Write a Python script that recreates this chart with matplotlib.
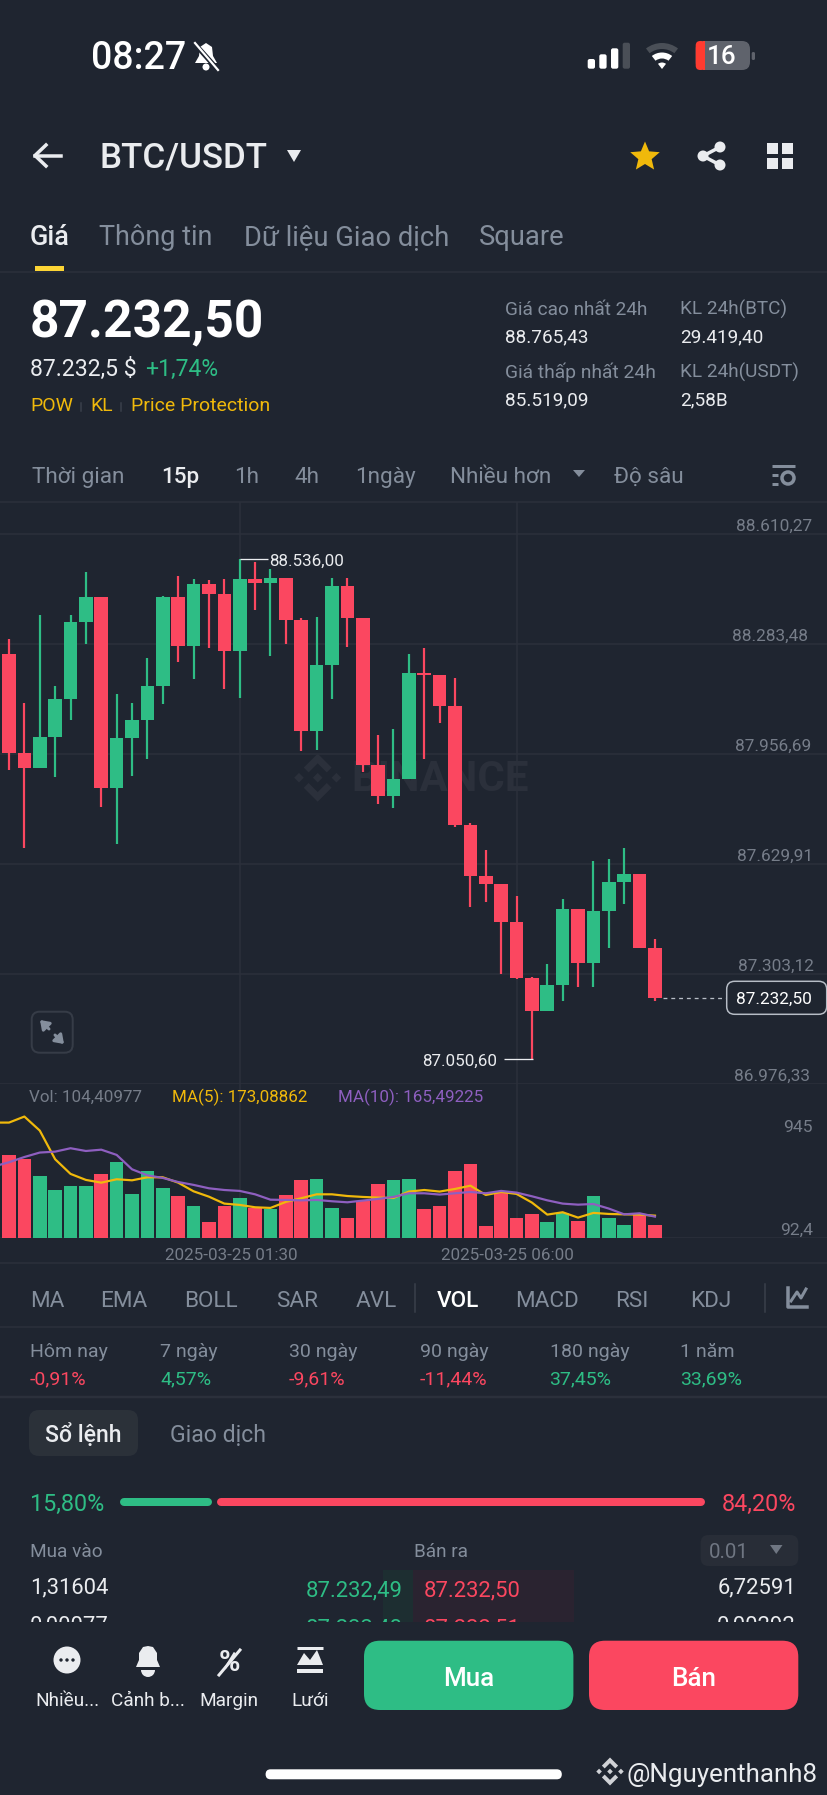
import numpy as np
import matplotlib
matplotlib.use('Agg')
import matplotlib.pyplot as plt
from matplotlib.patches import Circle, FancyBboxPatch, Polygon, Rectangle, Wedge

plt.rcParams['font.family'] = ['Roboto', 'Noto Sans', 'DejaVu Sans']

W, H = 828, 1795

# candles, first one is cut by the left edge
indices = np.arange(-1, 43)
opens = [88311, 88253.5, 87961, 87914.5, 88006.5, 88119.5, 88349.5, 88423, 87856, 88003.5, 88057,
         88159.5, 88423, 88278.5, 88461.5, 88434, 88263.5, 88477.5, 88464.5, 88481.5, 88356.5, 88024.5,
         88222, 88457.5, 88360.5, 87923.5, 87832, 87882, 88197, 88191, 88100, 87745,
         87593.5, 87569.5, 87456.5, 87291, 87193, 87270, 87497, 87336.5, 87488.5, 87576.5, 87598.5, 87381]
highs = [88311, 88299, 88110, 88370.5, 88160, 88371.5, 88499.5, 88423, 88135.5, 88109, 88241.5,
         88428, 88486.5, 88478.5, 88474.5, 88477.5, 88536, 88527, 88507, 88481.5, 88361.5, 88363.5,
         88479.5, 88479.5, 88360.5, 88014.5, 88030.5, 88255.5, 88273.5, 88191, 88184, 87751,
         87671.5, 87569.5, 87536, 87295, 87331.5, 87526, 87497, 87639, 87645, 87677.5, 87598.5, 87408]
lows = [88256.5, 87909.5, 87678.5, 87914.5, 87889.5, 88057, 88284, 87800.5, 87690.5, 87892.5, 87941,
        88107, 88231.5, 88179, 88271.5, 88149.5, 88122.5, 88386.5, 88248.5, 88283, 87967, 87969,
        88119.5, 88275.5, 87904.5, 87807.5, 87796.5, 87882, 87941, 88050.5, 87741, 87501,
        87516, 87303, 87287, 87050.6, 87193, 87223.5, 87262.5, 87262.5, 87379.5, 87511, 87379.5, 87223.5]
closes = [88256.5, 87961, 87914.5, 88006.5, 88119.5, 88349.5, 88423, 87856, 88003.5, 88057, 88159.5,
          88423, 88278.5, 88461.5, 88434, 88263.5, 88477.5, 88464.5, 88481.5, 88356.5, 88024.5, 88222,
          88457.5, 88361.5, 87923.5, 87832, 87882, 88197, 88192, 88100, 87745, 87593.5,
          87569.5, 87456.5, 87291, 87193, 87270, 87497, 87336.5, 87488.5, 87575.5, 87598.5, 87381, 87232.5]

# volume pane
volumes = [942, 634, 606, 474, 369, 397, 400, 489, 586, 339, 514, 387, 321, 247, 125, 247, 308, 234, 224,
           329, 443, 451, 229, 155, 285, 415, 443, 456, 222, 247, 517, 568, 94, 346, 158, 186, 122, 191,
           135, 321, 158, 104, 186, 104.4]
ma5 = [884, 884, 930, 823, 604, 492, 446, 425, 451, 443, 466, 466, 425, 359, 318, 265, 255, 237, 232,
       278, 306, 336, 336, 323, 316, 311, 308, 357, 369, 357, 377, 402, 331, 354, 339, 273, 181, 199,
       158, 194, 186, 183, 181, 173]
ma10 = [548, 581, 621, 655, 662, 688, 667, 677, 637, 527, 481, 461, 430, 408, 382, 369, 362, 336, 295,
        293, 290, 293, 283, 275, 288, 301, 316, 344, 344, 334, 344, 354, 344, 362, 349, 321, 290, 265,
        257, 262, 227, 183, 191, 165.5]

price_ticks = [88610.27, 88283.48, 87956.69, 87629.91, 87303.12, 86976.33]
price_labels = ['88.610,27', '88.283,48', '87.956,69', '87.629,91', '87.303,12', '86.976,33']
time_ticks = [15, 33]
time_labels = ['2025-03-25 01:30', '2025-03-25 06:00']

perf_names = ['Hôm nay', '7 ngày', '30 ngày', '90 ngày', '180 ngày', '1 năm']
perf_values = [-0.91, 4.57, -9.61, -11.44, 37.45, 33.69]
buy_share, sell_share = 15.80, 84.20

BG = '#1f2530'
GRID = '#2b303b'
GREEN = '#2ebd85'
RED = '#fb4760'
GREY = '#848e9c'
AXIS_GREY = '#767d89'
LIGHT = '#eaecef'
YELLOW = '#f0b90b'
PURPLE = '#8e5fc0'


def px(n):
    # pixel size to points at dpi 100
    return n * 0.72


def vn(x):
    return f'{x:.2f}'.replace('.', ',')


fig = plt.figure(figsize=(W / 100, H / 100), dpi=100, facecolor=BG)


def pane(top, bottom):
    ax = fig.add_axes([0, 1 - bottom / H, 1, (bottom - top) / H])
    ax.set_facecolor('none')
    # 9 px is the centre of candle 0, 15.38 px between candles
    ax.set_xlim(-9 / 15.38, (W - 9) / 15.38)
    for s in ax.spines.values():
        s.set_visible(False)
    ax.tick_params(length=0, labelleft=False, labelbottom=False)
    return ax


ax_price = pane(502, 1083.7)
ax_price.set_ylim(86976.33, 88706.3)
ax_vol = pane(1083.7, 1238.3)
ax_vol.set_ylim(0, 1181)

ui = fig.add_axes([0, 0, 1, 1], zorder=5)
ui.set_xlim(0, W)
ui.set_ylim(H, 0)
ui.axis('off')
ui.patch.set_alpha(0)


def txt(x, y, s, size, color=LIGHT, ha='left', weight='normal', **kw):
    return ui.text(x, y, s, fontsize=px(size), color=color, ha=ha, va='baseline', fontweight=weight, **kw)


def hline(y, x0=0, x1=W, color=GRID, lw=1.5):
    ui.plot([x0, x1], [y, y], color=color, lw=px(lw), solid_capstyle='butt')


def tri(x0, x1, y0, y1, color):
    # small dropdown triangle
    ui.add_patch(Polygon([(x0, y0), (x1, y0), ((x0 + x1) / 2, y1)], color=color, lw=0))


def rbox(x0, y0, x1, y1, r, face, edge='none', lw=0, **kw):
    ui.add_patch(FancyBboxPatch((x0 + r, y0 + r), x1 - x0 - 2 * r, y1 - y0 - 2 * r,
                                boxstyle=f'round,pad={r},rounding_size={r}', fc=face, ec=edge, lw=lw, **kw))


def logo(ax, cx, cy, r, color, zorder=5, transform=None):
    # binance mark: three small squares plus two chevrons
    transform = transform or ax.transData
    s = r * 0.2
    for dx in (-r * 0.78, 0, r * 0.78):
        ax.add_patch(Polygon([(cx + dx - s, cy), (cx + dx, cy - s), (cx + dx + s, cy), (cx + dx, cy + s)],
                             color=color, lw=0, zorder=zorder, transform=transform, clip_on=False))
    for sign in (-1, 1):
        pts = [(cx - r * 0.58, cy + sign * r * 0.42), (cx, cy + sign * r), (cx + r * 0.58, cy + sign * r * 0.42),
               (cx + r * 0.38, cy + sign * r * 0.22), (cx, cy + sign * r * 0.6), (cx - r * 0.38, cy + sign * r * 0.22)]
        ax.add_patch(Polygon(pts, color=color, lw=0, zorder=zorder, transform=transform, clip_on=False))


# panes
for ax in (ax_price, ax_vol):
    ax.set_xticks(time_ticks)
    ax.grid(True, axis='x', color=GRID, lw=px(1.5))
    ax.set_axisbelow(True)
ax_price.set_yticks(price_ticks)
ax_price.grid(True, axis='y', color=GRID, lw=px(1.5))
ax_vol.set_yticks([0])
ax_vol.grid(True, axis='y', color=GRID, lw=px(1.5))

colors = [GREEN if c >= o else RED for o, c in zip(opens, closes)]
tops = np.maximum(opens, closes)
bots = np.minimum(opens, closes)
ax_price.vlines(indices, lows, highs, colors=colors, lw=px(2.2), zorder=3)
ax_price.bar(indices, tops - bots, bottom=bots, width=0.885, color=colors, zorder=4)

ax_vol.bar(indices, volumes, width=0.885, color=colors, zorder=3)
ax_vol.plot(indices, ma5, color=YELLOW, lw=px(2.2), zorder=4)
ax_vol.plot(indices, ma10, color=PURPLE, lw=px(2.2), zorder=5)

# watermark under the candles
ax_price.text(351.5, 791, 'BINANCE', fontsize=px(42), fontweight='bold', color='#2b303b', zorder=1,
              va='baseline', transform=ui.transData, clip_on=False)
logo(ax_price, 317.7, 777.7, 24, '#2b303b', zorder=1, transform=ui.transData)

# axis labels, right edges differ a little in the app
for p, lab, right in zip(price_ticks, price_labels, [812, 808, 811, 813, 814, 810]):
    ax_price.annotate(lab, xy=(right / W, p), xycoords=('axes fraction', 'data'), xytext=(0, px(3.3)),
                      textcoords='offset points', ha='right', va='baseline', fontsize=px(17.3), color=AXIS_GREY)
txt(813, 1132, '945', 17.5, AXIS_GREY, ha='right')
txt(813, 1235, '92,4', 17.5, AXIS_GREY, ha='right')
txt(165, 1260, time_labels[0], 17, AXIS_GREY)
txt(440.7, 1260, time_labels[1], 17, AXIS_GREY)
hline(1263)

txt(29, 1101.7, 'Vol: 104,40977', 17, AXIS_GREY)
txt(171.7, 1101.7, 'MA(5): 173,08862', 17, YELLOW)
txt(338, 1101.7, 'MA(10): 165,49225', 17, PURPLE)

# high, low and last price
hline(559.3, 240, 268, color=LIGHT, lw=1.3)
txt(269, 566, '88.536,00', 17, LIGHT)
hline(1059, 504, 532.7, color=LIGHT, lw=1.3)
txt(422, 1065.7, '87.050,60', 17, LIGHT)
ui.plot([663, 726], [998, 998], color='#b7bdc6', lw=px(1.3), ls=(0, (3, 3)))
rbox(726.7, 981.3, 826.7, 1014.3, 8, BG, edge='#b7bdc6', lw=px(1.5))
txt(774, 1004.3, '87.232,50', 17.2, 'white', ha='center')

# expand button
rbox(31.7, 1011.7, 72.7, 1052.7, 8, 'none', edge='#363c47', lw=px(2))
for a, b in [((49, 1029), (40, 1020)), ((55, 1035), (64, 1044))]:
    ui.annotate('', xy=b, xytext=a, arrowprops=dict(arrowstyle='-|>,head_width=0.35,head_length=0.5',
                                                    color=GREY, lw=px(3), shrinkA=0, shrinkB=0))

# status bar
txt(91, 69, '08:27', 37.5, 'white', weight='medium')
ui.add_patch(Polygon([(195, 63), (199, 56), (200, 47), (206, 43), (212, 47), (213, 56), (217, 63)], color='white', lw=0))
ui.add_patch(Circle((206, 67), 3.5, color='white', lw=0))
ui.plot([194, 219], [43, 71], color=BG, lw=px(5))
ui.plot([195, 218], [43, 70], color='white', lw=px(2.2))
for x0, ytop, col in [(587.7, 59, 'white'), (599.3, 54.3, 'white'), (611, 48.3, 'white'), (622.7, 42.7, '#4a4f57')]:
    rbox(x0, ytop, x0 + 7.3, 68.7, 2, col)
for r0, r1, col in [(20, 26, '#4a4f57'), (10.5, 16.5, 'white'), (0, 6.5, 'white')]:
    ui.add_patch(Wedge((662, 69), r1, 232, 308, width=r1 - r0, color=col, lw=0))
rbox(695.7, 41, 750, 70, 8, '#5f636c')
ui.add_patch(Rectangle((703, 41), 2, 29, color='#ff3b30', lw=0))
rbox(695.7, 41, 705, 70, 4.5, '#ff3b30')
rbox(751.7, 52, 755, 60, 1.5, '#5f636c')
txt(722, 64.5, '16', 26, 'white', ha='center', weight='medium')

# header
ui.plot([35, 61], [155.5, 155.5], color=LIGHT, lw=px(3.5))
ui.plot([46, 35, 46], [145, 155.5, 166], color=LIGHT, lw=px(3.5))
txt(100, 168, 'BTC/USDT', 35, LIGHT, weight='medium')
tri(287, 301, 150, 162, LIGHT)
angles = np.deg2rad(np.arange(-90, 270, 36))
radii = np.where(np.arange(10) % 2 == 0, 15.5, 7)
ui.add_patch(Polygon(np.c_[645 + radii * np.cos(angles), 157 + radii * np.sin(angles)], color=YELLOW, lw=0))
ui.plot([720, 703, 720], [147, 156, 165], color=LIGHT, lw=px(3.5))
for x, y in [(720, 147), (703, 156), (720, 165)]:
    ui.add_patch(Circle((x, y), 5.5, color=LIGHT, lw=0))
for x in (766.7, 781.7):
    for y in (143, 158):
        ui.add_patch(Rectangle((x, y), 11, 11, color=LIGHT, lw=0))

# tabs
txt(30, 245, 'Giá', 27, LIGHT, weight='medium')
txt(99, 245, 'Thông tin', 27, GREY)
txt(244, 245, 'Dữ liệu Giao dịch', 27.4, GREY)
txt(479, 245, 'Square', 27.4, GREY)
ui.add_patch(Rectangle((35, 266), 29, 5, color='#fcd535', lw=0))
hline(271.5)

# price block
txt(30, 337, '87.232,50', 51.5, 'white', weight='bold')
txt(30, 376, '87.232,5 $', 23, LIGHT)
txt(145, 376, '+1,74%', 23, GREEN)
txt(30, 410.7, 'POW', 19.5, YELLOW)
txt(90, 410.7, 'KL', 19.5, YELLOW)
txt(131, 410.7, 'Price Protection', 19.5, YELLOW)
for x in (81, 121):
    ui.plot([x, x], [403, 411], color='#3a404b', lw=px(1.5))

txt(505, 315, 'Giá cao nhất 24h', 19, GREY)
txt(505, 342, '88.765,43', 19, LIGHT)
txt(505, 378, 'Giá thấp nhất 24h', 19.3, GREY)
txt(505, 405, '85.519,09', 19, LIGHT)
txt(680, 315, 'KL 24h(BTC)', 19, GREY)
txt(680, 342, '29.419,40', 19, LIGHT)
txt(680, 378, 'KL 24h(USDT)', 19, GREY)
txt(680, 405, '2,58B', 19, LIGHT)

# interval row
for x, s in [(31.7, 'Thời gian'), (234, '1h'), (294, '4h'), (355, '1ngày'), (450, 'Nhiều hơn'), (614, 'Độ sâu')]:
    txt(x, 483, s, 22.5, GREY)
txt(161, 483, '15p', 22.5, LIGHT, weight='medium')
tri(573, 585, 470, 477, GREY)
hline(466, 772, 795, color=GREY, lw=3)
hline(475, 772, 778, color=GREY, lw=3)
hline(484, 772, 778, color=GREY, lw=3)
ui.add_patch(Circle((788, 478), 6, fc='none', ec=GREY, lw=px(3.5)))
hline(502)

# indicator row
for x, s in [(30, 'MA'), (100, 'EMA'), (184, 'BOLL'), (276, 'SAR'), (356, 'AVL'), (515, 'MACD'), (615.6, 'RSI'), (690.6, 'KDJ')]:
    txt(x, 1306.7, s, 22.5, GREY)
txt(436.6, 1306.7, 'VOL', 22.5, 'white', weight='medium')
for x in (415.5, 765):
    ui.plot([x, x], [1284, 1312], color='#3a404b', lw=px(1.5))
ui.plot([788, 788, 807], [1288, 1307, 1307], color=GREY, lw=px(3.5))
ui.plot([791, 797, 801, 806], [1301, 1292, 1298, 1289], color=GREY, lw=px(3))
hline(1327)

# performance row
for x, name, v in zip([30, 160, 289, 420, 549.6, 680], perf_names, perf_values):
    txt(x, 1356.7, name, 19.5, GREY)
    txt(x, 1384, vn(v) + '%', 19.5, GREEN if v > 0 else RED)
hline(1396.7, lw=2.5)

# order book
rbox(29, 1410, 138, 1456, 10, '#2b3139')
txt(45, 1441.7, 'Sổ lệnh', 23, LIGHT, weight='medium')
txt(170, 1441.7, 'Giao dịch', 23, GREY)

txt(30, 1510.7, vn(buy_share) + '%', 23.4, GREEN)
txt(796, 1510.7, vn(sell_share) + '%', 23.4, RED, ha='right')
bar_x = 120.4
bar_w = 5.8
green_end = bar_x + buy_share * bar_w
red_start = green_end + 4.5
ui.plot([bar_x + 4, green_end - 4], [1502, 1502], color=GREEN, lw=px(8), solid_capstyle='round')
ui.plot([red_start + 4, red_start + sell_share * bar_w - 4], [1502, 1502], color=RED, lw=px(8), solid_capstyle='round')

txt(30, 1557, 'Mua vào', 19, GREY)
txt(414.5, 1557, 'Bán ra', 19, GREY)
rbox(700.6, 1535, 798.3, 1566, 8, '#282d37')
txt(709, 1558, '0.01', 20.5, '#6f7682')
tri(770, 782.5, 1545, 1554, '#6f7682')

ui.add_patch(Rectangle((382.8, 1570), 30.6, 51.7, color='#1d2e31', lw=0))
ui.add_patch(Rectangle((413.4, 1570), 160.6, 51.7, color='#2a2330', lw=0))
txt(30, 1593, '1,31604', 22)
txt(403, 1596.7, '87.232,49', 22, GREEN, ha='right')
txt(424, 1596.7, '87.232,50', 22, RED)
txt(796, 1593, '6,72591', 22, ha='right')
# second row is cut off by the bottom bar
clip = Rectangle((0, 1560), W, 61.7, transform=ui.transData)
for t in [txt(30, 1631, '0,00077', 22), txt(403, 1634, '87.232,48', 22, GREEN, ha='right'),
          txt(424, 1634, '87.232,51', 22, RED), txt(796, 1631, '0,00292', 22, ha='right')]:
    t.set_clip_on(True)
    t.set_clip_path(clip)

# bottom bar
ui.add_patch(Circle((67, 1660), 13.5, color=LIGHT, lw=0))
for dx in (-6, 0, 6):
    ui.add_patch(Circle((67 + dx, 1660), 1.7, color=BG, lw=0))
ui.add_patch(Polygon([(136, 1667), (139, 1660), (139, 1653), (143, 1647), (148, 1646), (153, 1647), (157, 1653), (157, 1660), (160, 1667)],
                     color=LIGHT, lw=0))
ui.add_patch(Wedge((148, 1670), 7, 0, 180, color=LIGHT, lw=0))
txt(229, 1671, '%', 29, LIGHT, ha='center', weight='bold')
ui.plot([219, 240], [1675, 1650], color=LIGHT, lw=px(3))
ui.add_patch(Polygon([(297, 1665), (304, 1653), (310, 1660), (317, 1650), (323, 1665)], color=LIGHT, lw=0))
hline(1648, 297, 323, color=LIGHT, lw=3)
hline(1671, 297, 323, color=LIGHT, lw=4)
for x, s in zip([67, 148, 229, 310], ['Nhiều...', 'Cảnh b...', 'Margin', 'Lưới']):
    txt(x, 1706, s, 19, LIGHT, ha='center')

rbox(364, 1640.7, 573.4, 1710, 16, GREEN)
rbox(589, 1640.7, 798.3, 1710, 16, RED)
txt(468.7, 1685.7, 'Mua', 26, 'white', ha='center', weight='medium')
txt(693.8, 1685.7, 'Bán', 26, 'white', ha='center', weight='medium')

rbox(265.6, 1769.3, 561.8, 1779.3, 5, 'white')
logo(ui, 610, 1771.5, 14, '#d0d2d6')
txt(627, 1781.7, '@Nguyenthanh8', 26, LIGHT)

fig.savefig('out.png', dpi=100, facecolor=BG)
